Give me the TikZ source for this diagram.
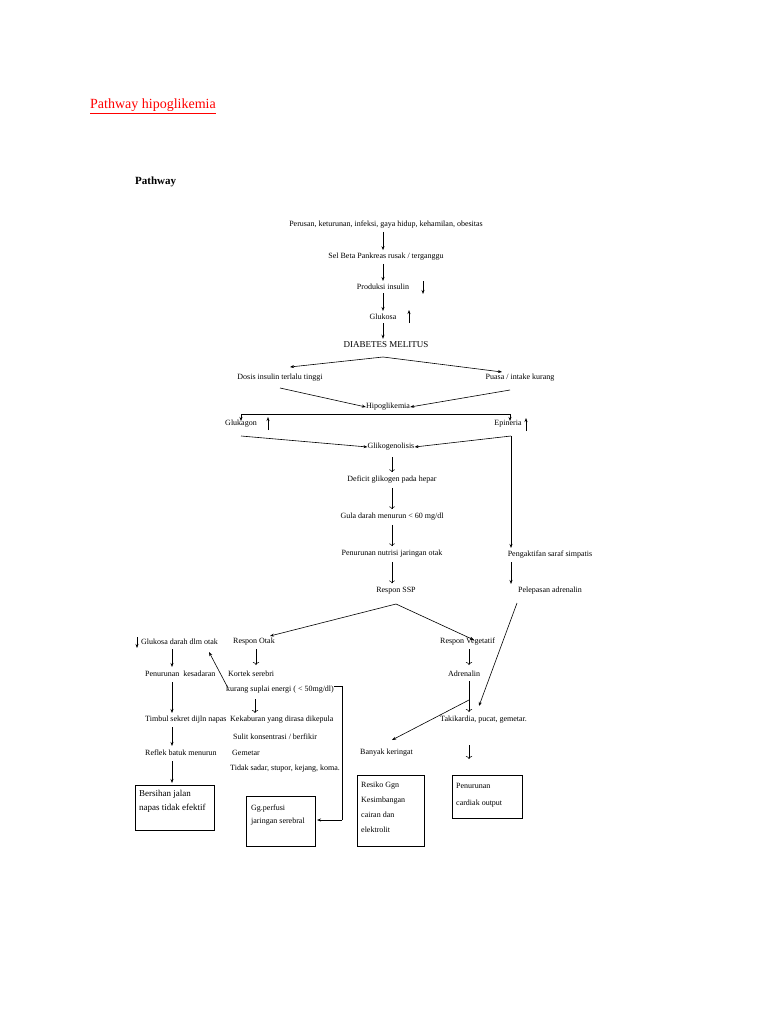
\documentclass[tikz,border=0pt]{standalone}
\usepackage{fontspec}
\setmainfont{Liberation Serif}
\usetikzlibrary{arrows.meta}
\begin{document}
\begin{tikzpicture}[x=1pt,y=-1pt,
  t/.style={inner sep=0pt,font=\fontsize{8}{9}\selectfont,align=left},
  ar/.style={-{Stealth[length=4pt,width=3pt]},line width=0.6pt},
  va/.style={ar,shorten <=3pt,shorten >=3pt},
  vt/.style={->,line width=0.5pt,shorten <=4pt,shorten >=4pt},
  ln/.style={line width=0.6pt}]
\useasboundingbox (0,0) rectangle (768,1024);
\node[inner sep=0pt,anchor=west,text=red,font=\fontsize{14}{16}\selectfont] (title) at (90,106) {\underline{Pathway hipoglikemia}};
\node[inner sep=0pt,anchor=west,font=\bfseries\fontsize{11}{13}\selectfont] (pw) at (135,182) {Pathway};
% main chain
\node[t] (a1) at (386,225) {Perusan, keturunan, infeksi, gaya hidup, kehamilan, obesitas};
\node[t] (a2) at (386,257) {Sel Beta Pankreas rusak / terganggu};
\node[t] (a3) at (383,287) {Produksi insulin};
\node[t] (a4) at (383,317) {Glukosa};
\node[t,font=\fontsize{9}{10}\selectfont] (dm) at (386,345) {DIABETES MELITUS};
\draw[va] (383,225 |- a1.south) -- (383,257 |- a2.north);
\draw[va] (383,257 |- a2.south) -- (383,287 |- a3.north);
\draw[ar] (423,281) -- (423,294);
\draw[va] (383,287 |- a3.south) -- (383,317 |- a4.north);
\draw[ar] (409,323) -- (409,310);
\draw[va] (383,317 |- a4.south) -- (383,345 |- dm.north);
\node[t] (dos) at (280,378) {Dosis insulin terlalu tinggi};
\node[t] (pua) at (520,378) {Puasa / intake kurang};
\coordinate (dmb) at (383,357);
\draw[ar] (dmb) -- (290,367);
\draw[ar] (dmb) -- (502,372);
\node[t] (hip) at (388,407) {Hipoglikemia};
\draw[ar] (280,388) -- (hip.west);
\draw[ar] (510,390) -- (hip.east);
\coordinate (hl) at (241,414); \coordinate (hr) at (510,414);
\draw[ln] (hl) -- (hr);
\node[t] (glu) at (241,424) {Glukagon};
\node[t] (epi) at (508,424) {Epineria};
\draw[ar] (hl) -- (241,421);
\draw[ar] (hr) -- (510,421);
\draw[ar] (268,430) -- (268,417);
\draw[ar] (526,431) -- (526,418);
\node[t] (gko) at (391,447) {Glikogenolisis};
\draw[ar] (241,436) -- (gko.west);
\draw[ar] (511,436) -- (gko.east);
\node[t] (def) at (392,480) {Deficit glikogen pada hepar};
\node[t] (gula) at (392,517) {Gula darah menurun < 60 mg/dl};
\node[t] (nut) at (392,554) {Penurunan nutrisi jaringan otak};
\node[t] (ssp) at (396,591) {Respon SSP};
\draw[vt] (392,453) -- (def.north);
\draw[vt] (def.south) -- (gula.north);
\draw[vt] (gula.south) -- (nut.north);
\draw[vt] (392,554 |- nut.south) -- (392,591 |- ssp.north);
\node[t] (sim) at (550,555) {Pengaktifan saraf simpatis};
\node[t] (adr) at (550,591) {Pelepasan adrenalin};
\draw[ar] (511,436) -- (511,548);
\draw[ar] (511,562) -- (511,584);
% SSP branches
\coordinate (sspb) at (396,604);
\draw[ar] (sspb) -- (270,636);
\draw[ar] (sspb) -- (474,640);
\node[t,anchor=west] (gdo) at (141,642) {Glukosa darah dlm otak};
\draw[ar] (137,637) -- (137,648);
\node[t,anchor=west] (ro) at (233,642) {Respon Otak};
\node[t,anchor=west] (rv) at (440,642) {Respon Vegetatif};
\node[t,anchor=west] (pk) at (145,674) {Penurunan\ \ kesadaran};
\node[t,anchor=west] (ks) at (228,674) {Kortek serebri};
\node[t,anchor=west] (kse) at (226,690) {kurang suplai energi ( < 50mg/dl)};
\node[t,anchor=west] (adn) at (448,674) {Adrenalin};
\draw[ar] (172,649) -- (172,667);
\draw[->,ln] (256,649) -- (256,665);
\draw[->,ln] (469,649) -- (469,665);
\draw[ar] (228,688) -- (209,652);
\node[t,anchor=west] (ts) at (145,720) {Timbul sekret dijln napas};
\node[t,anchor=west] (kek) at (230,720) {Kekaburan yang dirasa dikepula};
\node[t,anchor=west] (sul) at (233,737) {Sulit konsentrasi / berfikir};
\node[t,anchor=west] (gem) at (232,753) {Gemetar};
\node[t,anchor=west] (tds) at (230,769) {Tidak sadar, stupor, kejang, koma.};
\node[t,anchor=west] (rbm) at (145,753) {Reflek batuk menurun};
\draw[ar] (172,682) -- (172,713);
\draw[->,ln] (255,699) -- (255,713);
\draw[ar] (172,727) -- (172,746);
\draw[ar] (172,761) -- (172,783);
\node[t,anchor=west] (tak) at (440,720) {Takikardia, pucat, gemetar.};
\node[t,anchor=west] (bk) at (360,753) {Banyak keringat};
\draw[->,ln] (469,681) -- (469,712);
\draw[ar] (469,700) -- (392,740);
\draw[ar] (517,603) -- (479,706);
\draw[->,ln] (469,745) -- (469,759);
% boxes
\draw[line width=0.7pt] (135,785) rectangle (214,830);
\node[t,anchor=north west,font=\fontsize{9}{14}\selectfont] (b1) at (139,790) {Bersihan jalan\\napas tidak efektif};
\draw[line width=0.7pt] (246,796) rectangle (315,846);
\node[t,anchor=north west,font=\fontsize{8}{13}\selectfont] (b2) at (251,805) {Gg.perfusi\\jaringan serebral};
\draw[line width=0.7pt] (357,775) rectangle (424,846);
\node[t,anchor=north west,font=\fontsize{8}{15}\selectfont] (b3) at (361,782) {Resiko Ggn\\Kesimbangan\\cairan dan\\elektrolit};
\draw[line width=0.7pt] (452,775) rectangle (522,818);
\node[t,anchor=north west,font=\fontsize{8}{17}\selectfont] (b4) at (456,783) {Penurunan\\cardiak output};
\coordinate (brk) at (342,820);
\draw[ln] (kse.north east) -- (342,0 |- kse.north east) -- (brk);
\draw[ar] (brk) -- (317,820);
\end{tikzpicture}
\end{document}
